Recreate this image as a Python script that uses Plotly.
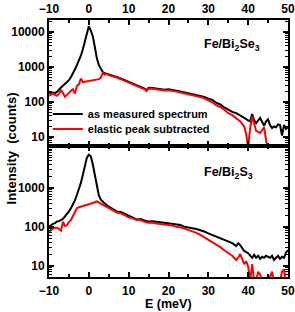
import plotly.graph_objects as go

# ---------------- data ----------------
# Top panel: Fe/Bi2Se3
se_E_meas = [-10, -9.5, -9, -8.5, -8, -7.5, -7, -6.5, -6, -5.5, -5, -4.5, -4, -3.5, -3, -2.5, -2, -1.5, -1, -0.5,
             0, 0.5, 1, 1.5, 2, 2.5, 3, 3.5, 4, 5, 6, 7, 8, 9, 10, 11, 12, 13, 14, 14.5, 15, 16, 17, 18, 19,
             20, 21, 22, 23, 24, 25, 26, 27, 28, 29, 30, 31, 32, 33, 34, 35, 36, 37, 38, 39, 40, 40.5, 41,
             41.5, 42, 43, 44, 44.5, 45, 45.5, 46, 46.5, 47, 47.5, 48, 48.5, 49, 49.5, 50]
se_I_meas = [190, 175, 185, 180, 195, 230, 260, 290, 330, 380, 420, 520, 650, 850, 1130, 1500, 2100, 3200, 5500, 9500,
             14500, 11000, 7500, 3800, 1800, 1150, 880, 720, 660, 620, 580, 520, 470, 420, 370, 340, 310, 270, 240, 215,
             255, 250, 240, 230, 225, 230, 215, 210, 200, 190, 175, 170, 160, 150, 140, 125, 115, 95, 85, 70, 60,
             52, 48, 42, 35, 30, 28, 45, 30, 25, 35, 21, 28, 32, 22, 18, 20, 19, 23, 22, 11, 22, 17, 19]

se_E_sub = [-10, -9.5, -9, -8.5, -8, -7.5, -7, -6.5, -6, -5.5, -5, -4.5, -4, -3.5, -3, -2.5, -2, -1.5, -1, -0.5,
            0, 0.5, 1, 1.5, 2, 2.5, 3, 3.5, 4, 4.5, 5, 6, 7, 8, 9, 10, 11, 12, 13, 14, 14.5, 15, 16, 17, 18, 19,
            20, 21, 22, 23, 24, 25, 26, 27, 28, 29, 30, 31, 32, 33, 34, 35, 36, 37, 38, 39, 39.5, 40, 40.5,
            41, 41.5, 42, 43, 44, 44.5, 45]
se_I_sub = [150, 160, 175, 160, 150, 170, 215, 180, 140, 160, 190, 210, 230, 175, 290, 320, 470, 370, 380, 390,
            400, 405, 410, 420, 430, 450, 490, 680, 610, 640, 590, 555, 500, 450, 400, 355, 325, 295, 258, 230, 205,
            242, 238, 228, 218, 213, 218, 204, 198, 188, 178, 163, 158, 148, 138, 128, 112, 98, 80, 72, 60, 48,
            42, 35, 28, 20, 12, 5, 18, 38, 25, 15, 13, 19, 8, 4]

# Bottom panel: Fe/Bi2S3
s_E_meas = [-10, -9.5, -9, -8.5, -8, -7.5, -7, -6.5, -6, -5.5, -5, -4.5, -4, -3.5, -3, -2.5, -2, -1.5, -1, -0.5,
            0, 0.5, 1, 1.5, 2, 2.5, 3, 3.5, 4, 5, 6, 7, 8, 9, 10, 11, 12, 13, 14, 15, 16, 17, 18, 19, 20, 21,
            22, 23, 24, 25, 26, 27, 28, 29, 30, 31, 32, 33, 34, 35, 36, 37, 37.5, 38, 38.5, 39, 40, 40.5, 41,
            41.5, 42, 42.5, 43, 43.5, 44, 44.5, 45, 45.5, 46, 46.5, 47, 47.5, 48, 48.5, 49, 49.5, 50]
s_I_meas = [100, 110, 120, 125, 137, 140, 150, 160, 185, 210, 250, 300, 370, 480, 660, 900, 1350, 2200, 3900, 6000,
            7200, 6500, 4000, 2000, 1000, 650, 500, 440, 400, 330, 290, 250, 240, 215, 190, 175, 155, 160, 145, 138,
            140, 135, 130, 128, 125, 118, 113, 112, 100, 94, 92, 88, 83, 76, 68, 62, 55, 52, 47, 42, 38, 32, 38,
            34, 28, 24, 21, 18, 16, 19, 16, 18, 15, 17, 16, 18, 17, 16, 18, 14, 16, 18, 15, 17, 16, 22, 25]

s_E_sub = [-10, -9.5, -9, -8.5, -8, -7.5, -7, -6.5, -6, -5.5, -5, -4.5, -4, -3.5, -3, -2.5, -2, -1, 0, 1, 2, 2.5,
           3, 4, 5, 6, 7, 8, 9, 10, 11, 12, 13, 14, 15, 16, 17, 18, 19, 20, 21, 22, 23, 24, 25, 26, 27, 28, 29,
           30, 31, 32, 33, 34, 35, 36, 37, 37.5, 38, 38.5, 39, 39.5, 40, 40.5, 41, 41.5, 42, 42.5, 43, 43.5,
           44, 45, 46, 46.5, 47, 48, 48.5, 49, 49.5, 50]
s_I_sub = [75, 85, 92, 95, 95, 88, 80, 135, 105, 110, 135, 150, 185, 230, 300, 320, 330, 350, 380, 410, 450, 420,
           390, 340, 300, 270, 235, 225, 200, 175, 165, 150, 150, 135, 128, 128, 122, 118, 115, 112, 108, 100, 98,
           90, 83, 76, 70, 62, 54, 46, 40, 35, 30, 25, 21, 18, 14, 16, 20, 15, 11, 13, 9.5, 4, 11, 4, 4, 7, 6, 4,
           4, 4, 7, 4, 4, 4, 7, 8, 3, 3]

x_ticks = [-10, 0, 10, 20, 30, 40, 50]
y_ticks_top = [10, 100, 1000, 10000]
y_ticks_bot = [10, 100, 1000]
series_names = ["as measured spectrum", "elastic peak subtracted"]
panel_labels = ["Fe/Bi<sub>2</sub>Se<sub>3</sub>", "Fe/Bi<sub>2</sub>S<sub>3</sub>"]

# ---------------- figure ----------------
FONT = "Liberation Sans, Arial, sans-serif"
BLACK = "#000000"
RED = "#ff0000"

fig = go.Figure()
fig.add_trace(go.Scatter(x=se_E_meas, y=se_I_meas, mode="lines", line=dict(color=BLACK, width=2),
                         name="<b>" + series_names[0] + "</b>", xaxis="x", yaxis="y", legend="legend"))
fig.add_trace(go.Scatter(x=se_E_sub, y=se_I_sub, mode="lines", line=dict(color=RED, width=2),
                         name="<b>" + series_names[1] + "</b>", xaxis="x", yaxis="y", legend="legend2"))
fig.add_trace(go.Scatter(x=s_E_meas, y=s_I_meas, mode="lines", line=dict(color=BLACK, width=2),
                         showlegend=False, xaxis="x2", yaxis="y2"))
fig.add_trace(go.Scatter(x=s_E_sub, y=s_I_sub, mode="lines", line=dict(color=RED, width=2),
                         showlegend=False, xaxis="x2", yaxis="y2"))

tickfont = dict(family=FONT, size=12, color=BLACK, weight="bold")
common_x = dict(range=[-10, 50], tickvals=x_ticks, ticks="inside", ticklen=5, tickwidth=1.5, tickcolor=BLACK,
                showline=True, linewidth=2, linecolor=BLACK, mirror="allticks", showgrid=False,
                zeroline=False, tickfont=tickfont, automargin=False,
                minor=dict(dtick=5, ticks="inside", ticklen=3, tickwidth=1.5, tickcolor=BLACK, showgrid=False))
common_y = dict(type="log", ticks="inside", ticklen=5, tickwidth=1.5, tickcolor=BLACK,
                showline=True, linewidth=2, linecolor=BLACK, mirror="allticks", showgrid=False,
                zeroline=False, tickfont=tickfont, automargin=False,
                minor=dict(dtick="D1", ticks="inside", ticklen=3, tickwidth=1, tickcolor=BLACK, showgrid=False))

split = 131 / 257
fig.update_layout(
    template="none",
    width=295, height=312,
    margin=dict(l=49, r=7, t=20, b=35, autoexpand=False),
    paper_bgcolor="white", plot_bgcolor="white",
    font=dict(family=FONT, color=BLACK),
    xaxis=dict(**common_x, domain=[0, 1], anchor="y", side="top"),
    yaxis=dict(**common_y, domain=[split, 1], anchor="x",
               range=[0.743, 4.343], tickvals=y_ticks_top, ticktext=[str(v) for v in y_ticks_top]),
    xaxis2=dict(**common_x, domain=[0, 1], anchor="y2", side="bottom", ticklabelstandoff=2),
    yaxis2=dict(**common_y, domain=[0, split], anchor="x2",
                range=[0.71, 4.08], tickvals=y_ticks_bot, ticktext=[str(v) for v in y_ticks_bot]),
    legend=dict(x=-0.005, y=0.634, xanchor="left", yanchor="middle", bgcolor="rgba(0,0,0,0)",
                font=dict(family=FONT, size=11, color=BLACK), borderwidth=0),
    legend2=dict(x=-0.005, y=0.576, xanchor="left", yanchor="middle", bgcolor="rgba(0,0,0,0)",
                 font=dict(family=FONT, size=11, color=BLACK), borderwidth=0),
    showlegend=True,
)

ann = dict(xref="paper", yref="paper", showarrow=False, xanchor="center", yanchor="middle")
fig.add_annotation(x=0.766, y=0.903, text="<b>" + panel_labels[0] + "</b>",
                   font=dict(family=FONT, size=12.5, color=BLACK), **ann)
fig.add_annotation(x=0.749, y=0.405, text="<b>" + panel_labels[1] + "</b>",
                   font=dict(family=FONT, size=12.5, color=BLACK), **ann)
fig.add_annotation(x=-0.155, y=0.5, text="<b>Intensity  (counts)</b>", textangle=-90,
                   font=dict(family=FONT, size=13, color=BLACK), **ann)
fig.add_annotation(x=0.498, y=-0.107, text="<b>E (meV)</b>",
                   font=dict(family=FONT, size=12.5, color=BLACK), **ann)

fig.write_html("out.html", config={"displayModeBar": False},
               post_script="document.body.style.margin='0';document.body.style.overflow='hidden';")
